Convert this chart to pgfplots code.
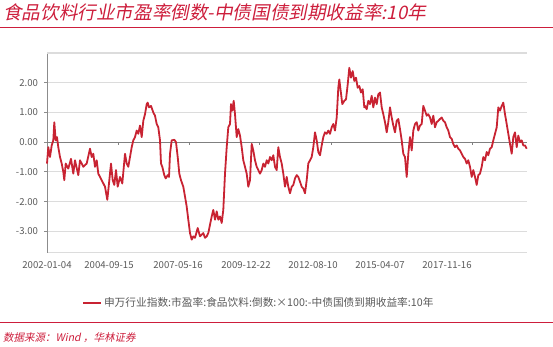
\documentclass[border=0pt]{standalone}
\usepackage{pgfplots}
\usepackage{pgfplotstable}
\pgfplotsset{compat=1.18}
\usepackage{fontspec}
\setmainfont{Noto Sans CJK SC}
\newfontfamily\slantfont[FakeSlant=0.2]{Noto Sans CJK SC}
\definecolor{hlred}{RGB}{200,35,50}
\definecolor{titlered}{RGB}{205,30,60}
\definecolor{lab}{RGB}{89,89,89}
\definecolor{gridc}{RGB}{220,220,220}
\definecolor{zeroc}{RGB}{128,128,128}
\definecolor{axc}{RGB}{140,140,140}

\pgfplotstableread{
x y
0 -0.72
1.3 -0.17
3.0 -0.50
4.7 -0.11
6.3 0.06
7.3 0.67
8.7 0.06
10.0 0.17
11.3 -0.17
13.0 -0.50
14.7 -0.72
16.3 -1.00
17.3 -1.28
18.7 -0.72
21.3 -0.89
24.0 -0.56
26.3 -1.06
28.0 -0.61
31.3 -1.11
33.0 -0.61
36.3 -0.83
39.7 -0.72
43.0 -0.22
44.7 -0.50
46.3 -0.39
48.0 -0.83
49.7 -0.61
51.3 -1.06
54.7 -1.28
58.0 -1.50
60.3 -1.94
62.0 -1.39
64.0 -0.72
65.7 -1.28
67.3 -1.44
69.0 -0.94
70.7 -1.50
73.0 -1.17
75.3 -1.39
78.0 -0.39
79.7 -0.72
81.3 -0.83
83.0 -0.50
84.7 -0.17
86.3 0.06
88.0 0.17
89.7 0.39
91.3 0.28
93.0 0.56
94.7 0.17
96.3 0.72
98.0 0.94
99.7 1.28
100.7 1.33
102.0 1.17
104.0 1.22
106.3 1.00
108.0 0.89
109.7 0.61
111.3 0.50
113.0 0.06
114.0 -0.72
115.3 -0.83
117.3 -1.11
118.7 -1.22
120.7 -1.11
122.0 -1.17
123.0 -0.39
124.7 0.06
127.3 0.08
129.0 0.00
130.7 -0.50
132.3 -1.06
134.0 -1.28
136.3 -1.50
138.0 -1.83
139.7 -2.17
141.3 -2.61
143.0 -3.06
144.7 -3.28
146.3 -3.17
148.0 -3.22
150.7 -2.89
153.0 -3.17
156.3 -3.06
158.0 -3.22
159.7 -3.17
161.3 -3.06
163.0 -2.78
164.7 -2.50
166.3 -2.28
168.0 -2.61
169.7 -2.33
171.3 -2.61
173.0 -2.50
174.7 -2.72
176.3 -2.28
178.0 -1.06
179.7 -0.17
181.3 0.50
183.0 0.61
184.0 1.28
185.3 1.06
186.7 1.39
188.0 0.94
189.7 0.17
191.3 0.44
193.0 0.22
194.7 -0.17
196.3 -0.61
198.0 -0.83
199.7 -1.06
201.3 -1.50
203.0 -1.28
204.7 -0.06
206.3 -0.28
208.0 -0.61
209.7 -0.83
211.3 -0.94
213.0 -1.06
214.7 -0.94
216.3 -0.72
218.0 -0.83
219.7 -0.61
221.3 -0.72
223.0 -0.50
224.7 -0.61
226.3 -0.44
228.0 -0.83
229.7 -0.94
231.3 -0.17
233.0 -0.50
234.7 -0.72
236.3 -1.06
238.0 -1.50
239.7 -1.17
241.3 -1.50
243.0 -1.72
244.7 -1.50
246.3 -1.44
248.0 -1.22
249.7 -1.11
251.3 -1.17
253.0 -1.33
254.7 -1.50
256.3 -1.56
258.0 -1.72
259.7 -1.28
261.3 -0.72
263.0 -0.61
264.7 -0.50
266.3 -0.17
268.0 0.33
269.7 0.06
271.3 -0.33
273.0 -0.44
274.7 -0.11
276.3 0.17
278.0 0.33
279.7 0.28
281.3 0.39
283.0 0.28
284.7 0.50
286.3 0.61
288.0 0.39
289.7 0.83
291.3 1.83
292.3 2.11
293.7 1.72
295.3 1.28
297.3 1.39
299.0 1.44
300.7 1.94
302.3 2.50
304.0 2.17
305.7 2.39
307.3 2.06
309.0 2.17
310.7 1.83
312.3 1.89
314.0 1.67
315.7 1.78
317.3 1.17
318.0 1.22
319.7 1.11
321.3 1.39
323.0 1.28
324.7 1.56
326.3 1.17
328.0 1.50
329.7 1.28
331.3 1.61
333.0 1.67
334.7 1.17
336.3 0.94
338.0 0.67
339.7 0.33
341.3 0.67
343.0 1.17
344.7 0.83
346.3 0.56
348.0 0.33
349.7 0.72
351.3 0.78
353.0 0.44
354.7 0.06
356.3 -0.39
358.0 -0.50
359.7 -1.17
361.3 -0.39
363.0 0.17
364.7 -0.28
366.3 0.39
368.0 0.61
369.7 0.67
371.3 0.39
373.0 0.56
374.7 0.61
376.3 1.22
378.0 1.06
379.7 0.89
381.3 0.94
383.0 0.83
384.7 0.61
386.3 0.89
388.0 0.50
389.7 0.67
391.3 0.72
393.0 0.78
394.7 0.83
396.3 0.72
398.0 0.67
399.7 0.50
401.3 0.39
403.0 0.17
404.7 0.11
406.3 -0.06
408.0 -0.17
409.7 -0.11
411.3 -0.22
413.0 -0.28
414.7 -0.39
416.3 -0.50
418.0 -0.56
419.7 -0.72
421.3 -0.61
423.0 -0.83
424.7 -1.17
426.3 -0.94
428.0 -1.17
429.7 -1.44
431.3 -1.11
433.0 -1.06
434.7 -0.83
436.3 -0.50
438.0 -0.61
439.7 -0.33
441.3 -0.44
443.0 -0.22
444.7 -0.17
446.3 0.06
448.0 0.28
449.7 0.50
451.3 1.17
453.0 1.06
454.7 1.22
456.3 1.33
458.0 0.94
459.7 0.61
461.3 0.28
463.0 -0.06
464.7 -0.39
466.3 0.17
468.0 0.33
469.7 -0.17
471.3 0.22
473.0 0.00
474.7 0.06
476.3 -0.11
478.0 -0.11
479.7 -0.22
}\datatable

\begin{document}
\begin{tikzpicture}[x=1pt,y=1pt]
\useasboundingbox (0,0) rectangle (553,346);
\node[anchor=west, text=titlered, font=\slantfont\fontsize{18.6}{21}\selectfont, inner sep=0] at (3,334) {食品饮料行业市盈率倒数-中债国债到期收益率:10年};
\draw[titlered, line width=1.5pt] (0,318.5) -- (553,318.5);
\draw[titlered, line width=1.5pt] (0,23.3) -- (553,23.3);
\node[anchor=west, text=titlered, font=\slantfont\fontsize{10.5}{12}\selectfont, inner sep=0] at (3,8) {数据来源：Wind ，华林证券};

\begin{axis}[
  at={(47pt,93.3pt)}, anchor=south west,
  scale only axis, width=480pt, height=199.7pt,
  xmin=0, xmax=480, ymin=-3.72, ymax=3,
  axis lines*=left,
  x axis line style={draw=gridc, line width=1pt},
  y axis line style={draw=axc, line width=0.9pt},
  ytick={-3,-2,-1,0,1,2},
  extra y ticks={3},
  extra y tick labels={},
  extra y tick style={major tick length=0pt, grid=major},
  ymajorgrids,
  grid style={draw=gridc, line width=1.1pt},
  tick align=outside,
  ytick pos=left,
  xtick pos=bottom,
  y tick style={draw=axc, line width=0.8pt},
  major tick length=3pt,
  x tick style={draw=none},
  xtick={0,62,131,199,266,333,400},
  xticklabels={2002-01-04,2004-09-15,2007-05-16,2009-12-22,2012-08-10,2015-04-07,2017-11-16},
  x tick label style={font=\fontsize{9.6}{11}\selectfont, text=lab, yshift=-2pt},
  y tick label style={font=\fontsize{9.6}{11}\selectfont, text=lab, xshift=-2.5pt},
  /pgf/number format/assume math mode=true,
  yticklabel={\pgfmathprintnumber[fixed,fixed zerofill,precision=2]{\tick}},
  legend style={at={(axis description cs:0.073,-0.252)}, anchor=west, draw=none, fill=none, inner sep=0pt,
    font=\fontsize{10.7}{12}\selectfont, text=lab},
  legend image code/.code={\draw[#1, line width=1.8pt] (0pt,0pt) -- (18pt,0pt);},
  clip=false,
]
\draw[zeroc, line width=0.9pt] (axis cs:0,0) -- (axis cs:480,0);
\pgfplotsinvokeforeach{71,142,212,284,354,425}{
  \draw[zeroc, line width=0.7pt] (axis cs:#1,0) -- (axis cs:#1,-0.1);
}
\addplot[hlred, line width=1.8pt, no markers, line join=round] table[x=x,y=y] {\datatable};
\addlegendentry{申万行业指数:市盈率:食品饮料:倒数:×100:-中债国债到期收益率:10年}
\end{axis}
\end{tikzpicture}
\end{document}
